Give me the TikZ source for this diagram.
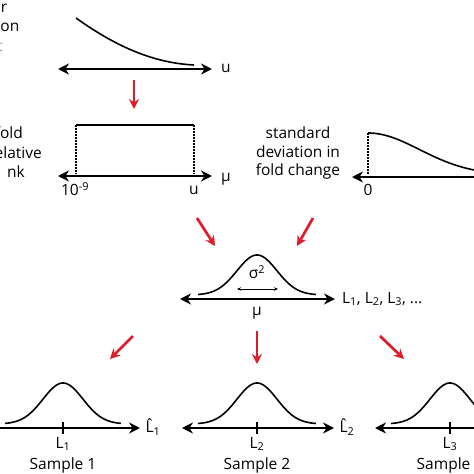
\documentclass[tikz,border=0pt]{standalone}
\usepackage{fontspec}
\setmainfont{Open Sans}
\usetikzlibrary{arrows.meta}
\definecolor{arrowred}{RGB}{222,29,42}
\newcommand{\hatL}{\accent"02C6 L}
\begin{document}
\begin{tikzpicture}[x=1pt,y=-1pt, font=\fontsize{15.5}{18.5}\selectfont,
  axis/.style={line width=2.9pt, {Stealth[length=11pt,width=11pt]}-{Stealth[length=11pt,width=11pt]}},
  curve/.style={line width=1.6pt},
  redarrow/.style={arrowred, line width=2.7pt, -{Stealth[length=10pt,width=10pt]}},
  dots/.style={line width=1.2pt, dash pattern=on 1.5pt off 1.5pt},
  tick/.style={line width=1.3pt},
  lab/.style={inner sep=0pt, anchor=center}]
\useasboundingbox (0,0) rectangle (474,474);
\clip (0,0) rectangle (474,474);

% ---------- top-left text fragments ----------
\node[lab, anchor=east] (t1) at (7.5,8) {r};
\node[lab, anchor=east] (t2) at (19.5,27) {on};
\node[lab, anchor=east, text=black!40] (t3) at (3,46) {t};

% ---------- top axis ----------
\coordinate (a1l) at (58,69);
\coordinate (a1r) at (212,69);
\draw[axis] (a1l) -- (a1r);
\node[lab] (u1) at (226,68) {u};
\draw[curve] (76,18) .. controls (118,48) and (155,63) .. (194,65);

% red arrow down
\coordinate (r1s) at (134,80);
\coordinate (r1e) at (134,109);
\draw[redarrow] (r1s) -- (r1e);

% ---------- second row left ----------
\node[lab, anchor=east] (f1) at (23,133) {fold};
\node[lab, anchor=east] (f2) at (42,153) {elative};
\node[lab, anchor=east] (f3) at (25,172) {nk};

\coordinate (a2l) at (58,176);
\coordinate (a2r) at (212,176);
\draw[axis] (a2l) -- (a2r);
\draw[curve] (76,125) -- (194,125);
\draw[dots] (76,125) -- (76,174);
\draw[dots] (194,125) -- (194,174);
\node[lab] (mu1) at (226,179) {μ};
\node[lab] (lo) at (75,189) {10\textsuperscript{-9}};
\node[lab] (u2) at (194,190) {u};

% ---------- second row right ----------
\node[lab, align=center] (sd) at (298,153) {standard\\deviation in\\fold change};
\coordinate (a3l) at (352,177);
\coordinate (a3r) at (495,177);
\draw[axis] (a3l) -- (a3r);
\draw[dots] (368,133) -- (368,175);
\draw[curve] plot[domain=0:115, samples=60, smooth] ({368+\x},{175-42*exp(-\x*\x/5290)});
\node[lab] (zero) at (368,190) {0};

% ---------- red arrows into middle ----------
\coordinate (r2s) at (197,218);
\coordinate (r2e) at (215,246);
\draw[redarrow] (r2s) -- (r2e);
\coordinate (r3s) at (313,218);
\coordinate (r3e) at (297,246);
\draw[redarrow] (r3s) -- (r3e);

% ---------- middle gaussian ----------
\coordinate (a4l) at (180,299);
\coordinate (a4r) at (335,299);
\draw[axis] (a4l) -- (a4r);
\draw[curve] plot[domain=-59:59, samples=80, smooth] ({257+\x},{295-40*exp(-\x*\x/800)});
\coordinate (sl) at (237,289);
\coordinate (sr) at (278,289);
\draw[line width=0.8pt, {Stealth[length=4pt,width=3.5pt]}-{Stealth[length=4pt,width=3.5pt]}] (sl) -- (sr);
\node[lab] (sig) at (257,272) {σ\textsuperscript{2}};
\node[lab] (mu2) at (257,313) {μ};
\node[lab, anchor=west] (Ls) at (342,299) {L\textsubscript{1}, L\textsubscript{2}, L\textsubscript{3}, ...};

% ---------- red arrows to samples ----------
\coordinate (r4s) at (133,336);
\coordinate (r4e) at (110,359);
\draw[redarrow] (r4s) -- (r4e);
\coordinate (r5s) at (257,331);
\coordinate (r5e) at (257,364);
\draw[redarrow] (r5s) -- (r5e);
\coordinate (r6s) at (380,336);
\coordinate (r6e) at (404,359);
\draw[redarrow] (r6s) -- (r6e);

% ---------- sample 1 ----------
\coordinate (s1l) at (-20,428);
\coordinate (s1r) at (140,428);
\draw[axis] (s1l) -- (s1r);
\draw[curve] plot[domain=-58:58, samples=80, smooth] ({63+\x},{424-41*exp(-\x*\x/800)});
\draw[tick] (63,422) -- (63,434);
\node[lab] (L1) at (63,444) {L\textsubscript{1}};
\node[lab] (S1) at (63,465) {Sample 1};
\node[lab] (Lh1) at (153,427) {\hatL\textsubscript{1}};

% ---------- sample 2 ----------
\coordinate (s2l) at (182,428);
\coordinate (s2r) at (334,428);
\draw[axis] (s2l) -- (s2r);
\draw[curve] plot[domain=-59:59, samples=80, smooth] ({257+\x},{424-41*exp(-\x*\x/800)});
\draw[tick] (257,422) -- (257,434);
\node[lab] (L2) at (257,444) {L\textsubscript{2}};
\node[lab] (S2) at (257,465) {Sample 2};
\node[lab] (Lh2) at (347,427) {\hatL\textsubscript{2}};

% ---------- sample 3 ----------
\coordinate (s3l) at (375,428);
\coordinate (s3r) at (520,428);
\draw[axis] (s3l) -- (s3r);
\draw[curve] plot[domain=-59:59, samples=80, smooth] ({450+\x},{424-41*exp(-\x*\x/800)});
\draw[tick] (450,422) -- (450,434);
\node[lab] (L3) at (450,444) {L\textsubscript{3}};
\node[lab] (S3) at (450,465) {Sample 3};
\end{tikzpicture}
\end{document}
